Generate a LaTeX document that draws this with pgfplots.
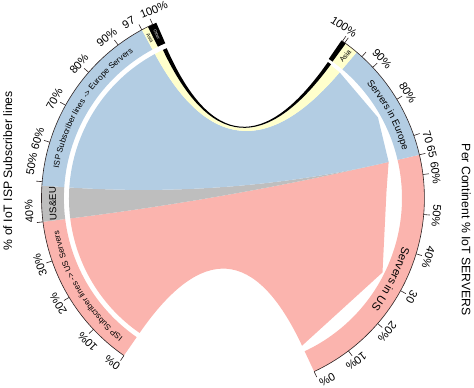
\documentclass[border=0pt]{standalone}
\usepackage{fontspec}
\setmainfont{Liberation Sans}
\usepackage{pgfplots}
\pgfplotsset{compat=1.18}
\usepackage{pgfplotstable}
\usetikzlibrary{decorations.text}

\definecolor{cpink}{HTML}{FBB4AE}
\definecolor{cblue}{HTML}{B3CDE3}
\definecolor{cyell}{HTML}{FFFFCC}
\definecolor{cgray}{HTML}{BEBEBE}
\definecolor{cline}{HTML}{2E2424}

% geometry (1 unit = 1pt)
\def\cx{236}\def\cy{189}
\def\Ro{188}\def\Ri{166}\def\Rl{161}

% percent -> angle on the left and right scales
\pgfmathdeclarefunction{La}{1}{\pgfmathparse{235.3-1.205*#1}}
\pgfmathdeclarefunction{Ra}{1}{\pgfmathparse{-64.9+1.2*#1}}

% point at angle #1, radius #2 (axis units)
\newcommand\Pt[2]{(axis cs:{\cx+(#2)*cos(#1)},{\cy+(#2)*sin(#1)})}

% ring segment: fn, p1, p2, colour
\newcommand\ringseg[4]{%
 \fill[#4] \Pt{#1(#2)}{\Ro}
   arc[start angle={#1(#2)}, end angle={#1(#3)}, radius=\Ro pt]
   -- \Pt{#1(#3)}{\Ri}
   arc[start angle={#1(#3)}, end angle={#1(#2)}, radius=\Ri pt] -- cycle;}

% text along the ring: fn, p1, p2, radius, font size, text
\newcommand\arclabel[6]{%
 \path[decorate, decoration={text along path, text align=center,
     text={|\fontsize{#5}{#5}\selectfont|#6}}]
   \Pt{#1(#2)}{#4}
   arc[start angle={#1(#2)}, end angle={#1(#3)}, radius=#4 pt];}

\pgfplotstableread{
p off lab
0 -1.5 0\%
10 1.4 10\%
20 0 20\%
30 0 30\%
40 -3.4 40\%
50 -4.8 50\%
60 0 60\%
70 0 70\%
80 0 80\%
90 1.3 90\%
97 2.3 97
100 -2 100\%
}\lticks

\pgfplotstableread{
p off lab
0 2.4 0\%
10 0 10\%
20 0 20\%
30 0 30
40 0 40\%
50 0 50\%
60 0 60\%
65 0 65
70 -1.7 70
80 0 80\%
90 0 90\%
100 2 100\%
}\rticks

\pgfplotstableread{
p q
93.8 0
99.3 0
}\rextra

\begin{document}
\begin{tikzpicture}
\begin{axis}[x=1pt, y=1pt, xmin=0, xmax=474, ymin=0, ymax=386,
  hide axis, clip=false]

% ---- ribbons: left % range -> right % range
% US servers: left 0-40 -> right 0-65
\fill[cpink] \Pt{La(40)}{\Rl} arc[start angle={La(40)}, end angle={La(0)}, radius=\Rl pt]
  .. controls \Pt{La(0)}{\Rl/3} and \Pt{Ra(0)}{160/3} .. \Pt{Ra(0)}{160}
  -- \Pt{-26.4}{164} -- \Pt{2.7}{151} -- \Pt{Ra(65)}{157}
  .. controls \Pt{Ra(65)}{157/3} and \Pt{La(40)}{\Rl/3} .. \Pt{La(40)}{\Rl} -- cycle;
% US&EU: left 40-49 -> right 65
\fill[cgray] \Pt{La(49)}{\Rl} arc[start angle={La(49)}, end angle={La(40)}, radius=\Rl pt]
  .. controls \Pt{La(40)}{\Rl/3} and \Pt{Ra(65)}{157/3} .. \Pt{Ra(65)}{157}
  .. controls \Pt{Ra(65)}{157/3} and \Pt{La(49)}{\Rl/3} .. \Pt{La(49)}{\Rl} -- cycle;
% Europe: left 49-97 -> right 65-95.5
\fill[cblue] \Pt{La(97)}{\Rl} arc[start angle={La(97)}, end angle={La(49)}, radius=\Rl pt]
  .. controls \Pt{La(49)}{\Rl/3} and \Pt{Ra(65)}{157/3} .. \Pt{Ra(65)}{157}
  -- \Pt{29.1}{163} -- \Pt{Ra(95.5)}{162}
  .. controls \Pt{Ra(95.5)}{162/3} and \Pt{La(97)}{\Rl/3} .. \Pt{La(97)}{\Rl} -- cycle;
% Asia: left 97-99.6 -> right 95.5-98.9
\fill[cyell] \Pt{La(99.6)}{\Rl} arc[start angle={La(99.6)}, end angle={La(97)}, radius=\Rl pt]
  .. controls \Pt{La(97)}{\Rl/3} and \Pt{Ra(95.5)}{162/3} .. \Pt{Ra(95.5)}{162}
  arc[start angle={Ra(95.5)}, end angle={Ra(98.9)}, radius=162pt]
  .. controls \Pt{Ra(98.9)}{162/3} and \Pt{La(99.6)}{\Rl/3} .. \Pt{La(99.6)}{\Rl} -- cycle;
% Other: left 99.6-100.8 -> right 98.9-100
\fill[black] \Pt{La(100.8)}{\Rl} arc[start angle={La(100.8)}, end angle={La(99.6)}, radius=\Rl pt]
  .. controls \Pt{La(99.6)}{\Rl/3} and \Pt{Ra(98.9)}{163/3} .. \Pt{Ra(98.9)}{163}
  arc[start angle={Ra(98.9)}, end angle={Ra(100)}, radius=163pt]
  .. controls \Pt{Ra(100)}{163/3} and \Pt{La(100.8)}{\Rl/3} .. \Pt{La(100.8)}{\Rl} -- cycle;

% ---- left ring
\ringseg{La}{0}{40}{cpink}
\ringseg{La}{40}{49}{cgray}
\ringseg{La}{49}{97}{cblue}
\ringseg{La}{97}{98.7}{cyell}
\ringseg{La}{98.7}{101}{black}
% ---- right ring
\ringseg{Ra}{0}{65}{cpink}
\ringseg{Ra}{65}{95.5}{cblue}
\ringseg{Ra}{95.5}{99}{cyell}
\ringseg{Ra}{99}{100.3}{black}

% outer edges
\draw[cline, line width=0.6pt] \Pt{La(0)}{\Ro}
   arc[start angle={La(0)}, end angle={La(100)}, radius=\Ro pt];
\draw[cline, line width=0.6pt] \Pt{Ra(0)}{\Ro}
   arc[start angle={Ra(0)}, end angle={Ra(100)}, radius=\Ro pt];

% ticks
\addplot[cline, line width=0.6pt, quiver={u={6*cos(La(\thisrow{p}))}, v={6*sin(La(\thisrow{p}))}}]
  table[x expr={\cx+\Ro*cos(La(\thisrow{p}))}, y expr={\cy+\Ro*sin(La(\thisrow{p}))}] {\lticks};
\addplot[cline, line width=0.6pt, quiver={u={6*cos(Ra(\thisrow{p}))}, v={6*sin(Ra(\thisrow{p}))}}]
  table[x expr={\cx+\Ro*cos(Ra(\thisrow{p}))}, y expr={\cy+\Ro*sin(Ra(\thisrow{p}))}] {\rticks};
\addplot[cline, line width=0.6pt, quiver={u={6*cos(Ra(\thisrow{p}))}, v={6*sin(Ra(\thisrow{p}))}}]
  table[x expr={\cx+\Ro*cos(Ra(\thisrow{p}))}, y expr={\cy+\Ro*sin(Ra(\thisrow{p}))}] {\rextra};

% tick labels
\addplot[draw=none, mark=none, point meta=explicit symbolic, nodes near coords,
  visualization depends on={La(\thisrow{p})+\thisrow{off}-90 \as \rot},
  every node near coord/.append style={rotate=\rot, anchor=south, inner sep=0.5pt,
     font=\fontsize{11}{11}\selectfont, text=black}]
  table[x expr={\cx+196*cos(La(\thisrow{p})+\thisrow{off})},
        y expr={\cy+196*sin(La(\thisrow{p})+\thisrow{off})}, meta=lab] {\lticks};
\addplot[draw=none, mark=none, point meta=explicit symbolic, nodes near coords,
  visualization depends on={Ra(\thisrow{p})+\thisrow{off}-90 \as \rot},
  every node near coord/.append style={rotate=\rot, anchor=south, inner sep=0.5pt,
     font=\fontsize{11}{11}\selectfont, text=black}]
  table[x expr={\cx+196*cos(Ra(\thisrow{p})+\thisrow{off})},
        y expr={\cy+196*sin(Ra(\thisrow{p})+\thisrow{off})}, meta=lab] {\rticks};

% ring texts
\arclabel{La}{0.5}{39.5}{174}{8}{ISP Subscriber lines -> US Servers}
\arclabel{La}{49}{97}{173.5}{8}{ISP Subscriber lines -> Europe Servers}
\arclabel{Ra}{95}{60}{173}{9.5}{Servers in Europe}
\arclabel{Ra}{55}{8}{173}{11}{Servers in US}
\node[rotate={La(44.5)-90}, font=\fontsize{9.5}{9.5}\selectfont, inner sep=0]
  at \Pt{La(44.5)}{177} {US\&EU};
\node[rotate={Ra(97.2)}, font=\fontsize{7}{7}\selectfont, inner sep=0]
  at \Pt{Ra(97.2)}{178} {Asia};
\node[rotate={La(97.85)-180}, font=\fontsize{5}{5}\selectfont, inner sep=0]
  at \Pt{La(97.85)}{177} {Asia};
\node[rotate={La(99.85)-180}, font=\fontsize{4}{4}\selectfont, inner sep=0, text=white]
  at \Pt{La(99.85)}{177} {Other};

% titles
\node[rotate=90, font=\fontsize{12}{12}\selectfont] at (axis cs:15,216) {\% of IoT ISP Subscriber lines};
\node[rotate=-90, font=\fontsize{12}{12}\selectfont] at (axis cs:465,158) {Per Continent \% IoT SERVERS};
\end{axis}
\end{tikzpicture}
\end{document}
